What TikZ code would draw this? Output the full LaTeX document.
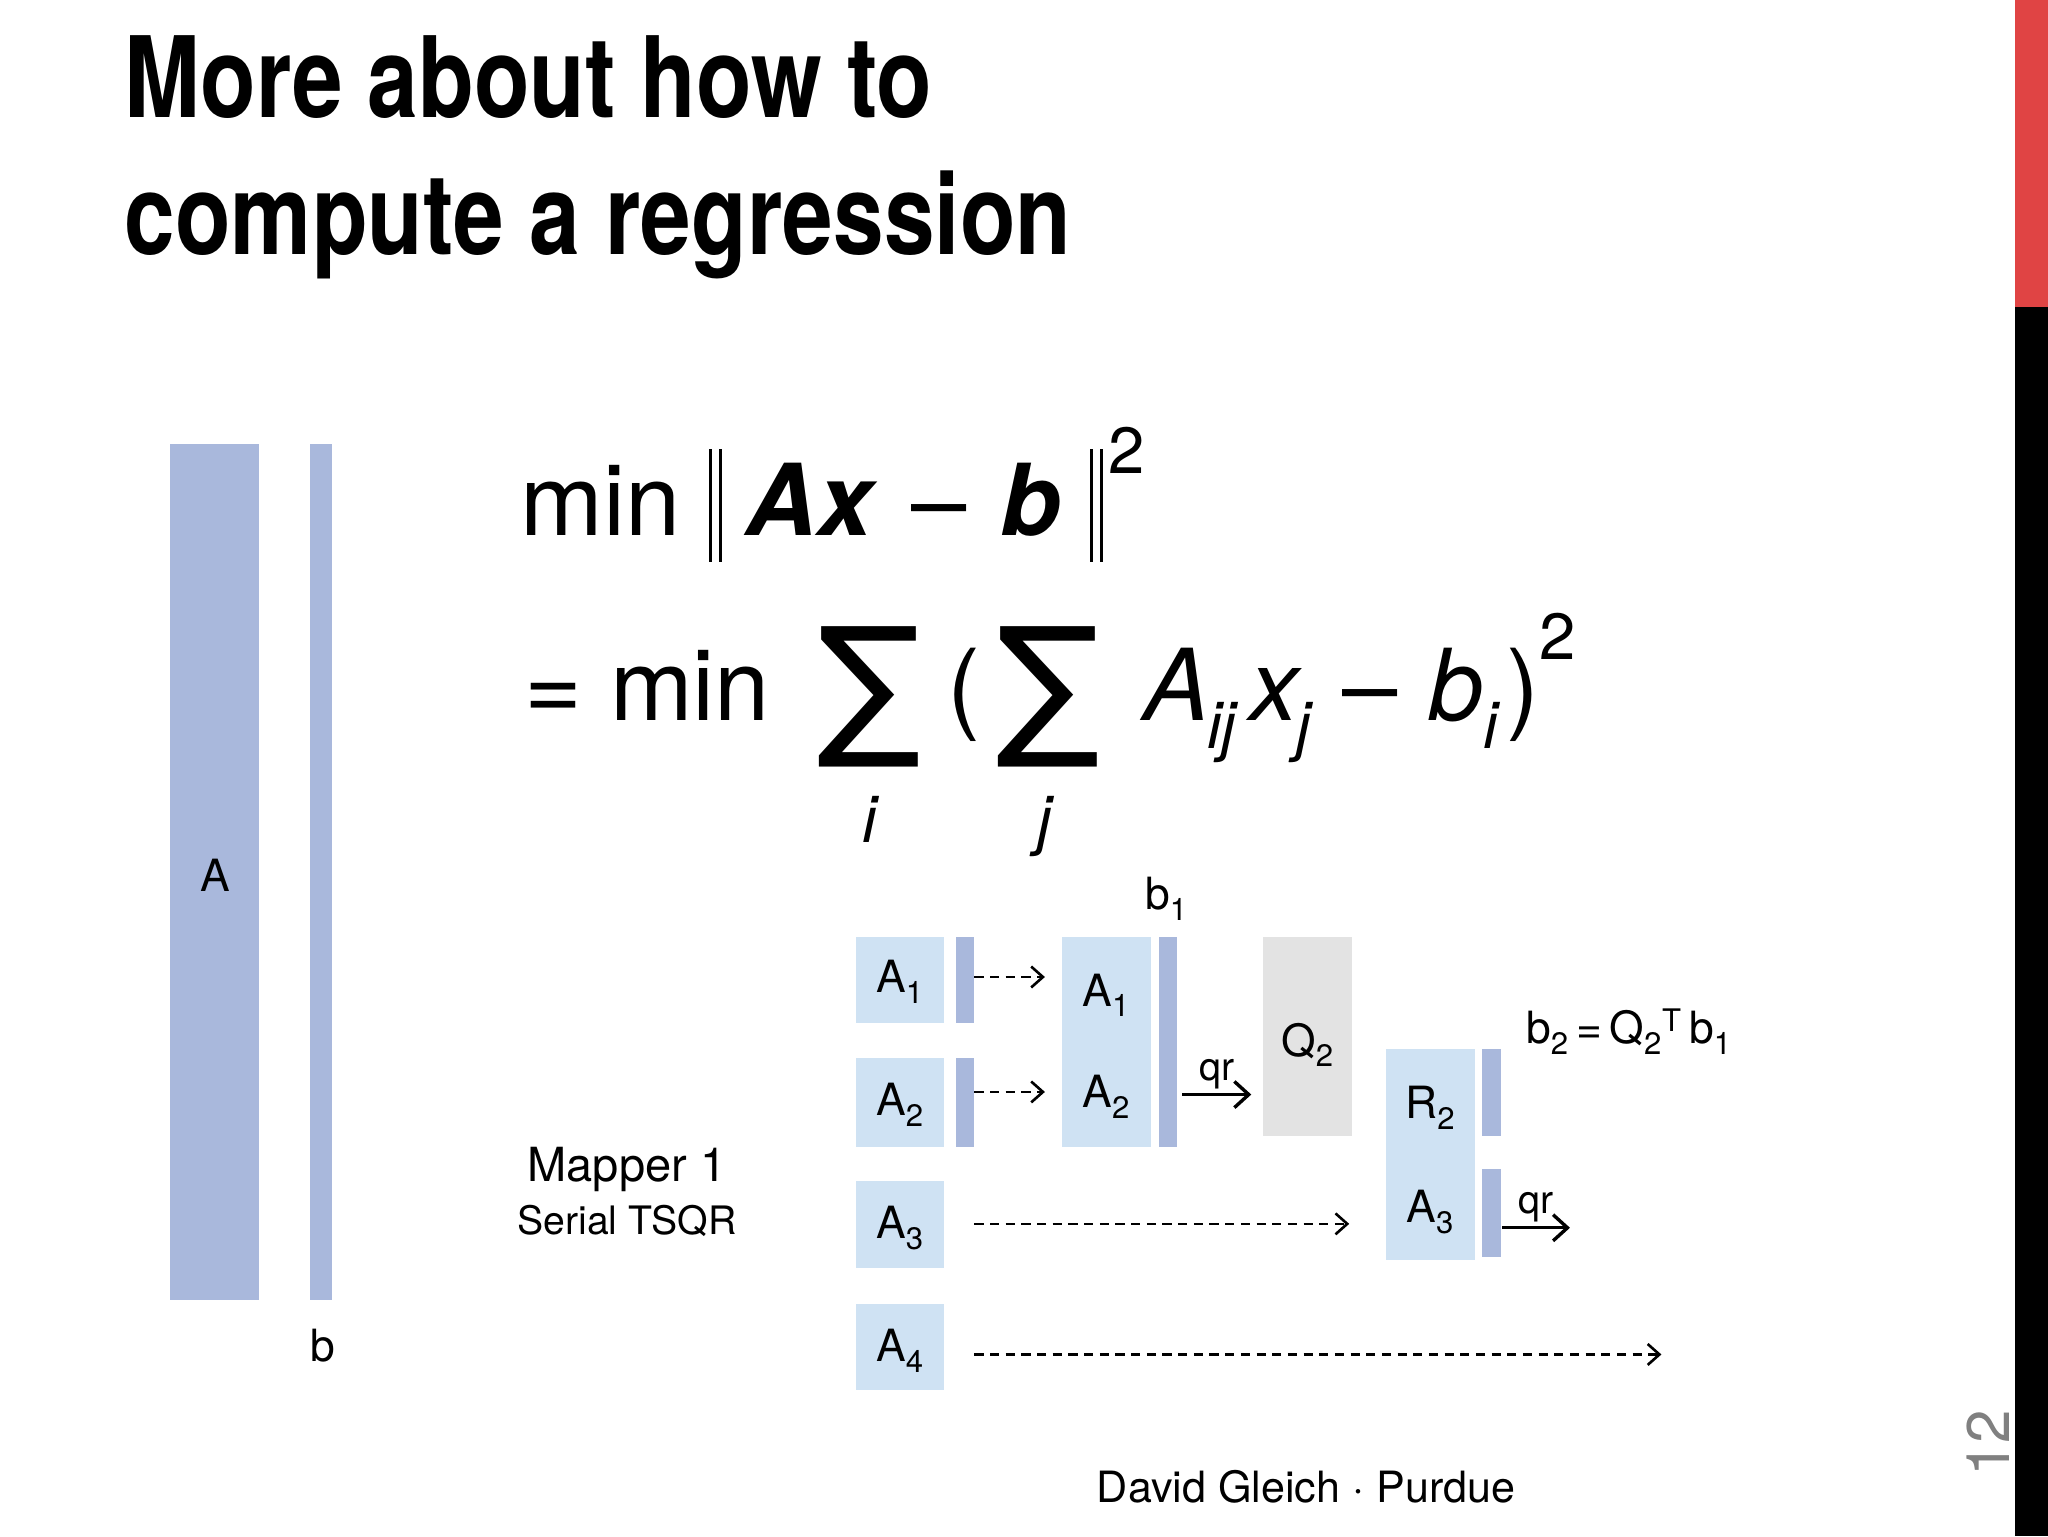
\documentclass[tikz,border=0pt]{standalone}
\usepackage{fontspec}
\usetikzlibrary{arrows.meta}
\setmainfont{TeX Gyre Heros}
\newfontfamily\titlefont[FakeStretch=0.81]{TeX Gyre Heros}
\newfontfamily\symfont{DejaVu Sans}
\newcommand{\fs}[1]{\fontsize{#1}{#1}\selectfont}
\newcommand{\dn}[1]{\raisebox{-0.28em}{\fs{50}#1}}
\newcommand{\up}[1]{\raisebox{0.62em}{\fs{50}#1}}
\newcommand{\nrm}{\hspace{22pt}\raisebox{-20pt}{\rule{2.4pt}{86pt}\hspace{5pt}\rule{2.4pt}{86pt}}\hspace{18pt}}
\definecolor{barblue}{HTML}{A9B8DC}
\definecolor{light}{HTML}{CFE2F3}
\definecolor{qgray}{HTML}{E3E3E3}
\definecolor{redbar}{HTML}{E04444}
\tikzset{
 blk/.style={fill=light,draw=none},
 vbar/.style={fill=barblue,draw=none},
 lab/.style={font=\fs{34}},
 darr/.style={-{Straight Barb[length=9pt,width=16pt,line width=2pt]},line width=1.6pt,dash pattern=on 7pt off 5pt},
 qarr/.style={-{Straight Barb[length=11pt,width=20pt,line width=2.6pt]},line width=2.6pt}
}
\begin{document}
\begin{tikzpicture}[x=1pt,y=-1pt]
\useasboundingbox (0,0) rectangle (1568,1176);
\fill[white] (0,0) rectangle (1568,1176);
\fill[redbar] (1543,0) rectangle (1568,235);
\fill[black] (1543,235) rectangle (1568,1176);
\node[rotate=90,text=gray,font=\fs{46}] (pg) at (1522,1105) {12};
% title
\node[anchor=base west,font=\titlefont\bfseries\fs{86}] (t1) at (92,90) {More about how to};
\node[anchor=base west,font=\titlefont\bfseries\fs{86}] (t2) at (92,195) {compute a regression};
% A and b
\fill[barblue] (130,340) rectangle (198,995);
\fill[barblue] (237,340) rectangle (254,995);
\node[lab] (la) at (165,670) {A};
\node[lab] (lb) at (247,1030) {b};
% equation 1
\node[anchor=base west,font=\fs{76}] (e1) at (395,410) {min\nrm\textbf{\textit{Ax}}\hspace{26pt}--\hspace{26pt}\textbf{\textit{b}}\nrm\hspace{-14pt}\up{2}};
% equation 2
\node[anchor=base west,font=\fs{76}] (e2a) at (398,552) {= min};
\node[anchor=base,font=\symfont\fs{118}] (s1) at (666,565) {∑};
\node[anchor=base,font=\fs{76}] (p1) at (738,552) {(};
\node[anchor=base,font=\symfont\fs{118}] (s2) at (803,565) {∑};
\node[anchor=base west,font=\fs{76}] (e2b) at (872,552) {\textit{A\hspace{-2pt}\dn{\itshape ij}\hspace{10pt}x\hspace{-2pt}\dn{\itshape j}}\hspace{24pt}--\hspace{24pt}\textit{b\dn{\itshape i}}\hspace{6pt})\up{2}};
\node[anchor=base,font=\itshape\fs{50}] (ii) at (666,645) {i};
\node[anchor=base,font=\itshape\fs{50}] (jj) at (800,645) {j};
% TSQR
\fill[blk] (655,717) rectangle (723,783);
\fill[blk] (655,810) rectangle (723,878);
\fill[blk] (655,904) rectangle (723,971);
\fill[blk] (655,998) rectangle (723,1064);
\fill[vbar] (732,717) rectangle (746,783);
\fill[vbar] (732,810) rectangle (746,878);
\node[lab] (a1) at (689,752) {A\textsubscript{1}};
\node[lab] (a2) at (689,846) {A\textsubscript{2}};
\node[lab] (a3) at (689,940) {A\textsubscript{3}};
\node[lab] (a4) at (689,1034) {A\textsubscript{4}};
\fill[blk] (813,717) rectangle (881,878);
\fill[vbar] (887,717) rectangle (901,878);
\node[lab] (c1) at (847,762) {A\textsubscript{1}};
\node[lab] (c2) at (847,840) {A\textsubscript{2}};
\node[lab] (b1) at (893,688) {b\textsubscript{1}};
\fill[qgray] (967,717) rectangle (1035,870);
\node[lab] (q2) at (1001,800) {Q\textsubscript{2}};
\fill[blk] (1061,803) rectangle (1129,965);
\fill[vbar] (1135,803) rectangle (1149,870);
\fill[vbar] (1135,895) rectangle (1149,962);
\node[lab] (r2) at (1095,848) {R\textsubscript{2}};
\node[lab] (r3) at (1095,928) {A\textsubscript{3}};
\node[lab,anchor=west] (b2) at (1165,790) {b\textsubscript{2}\,=\,Q\textsubscript{2}\textsuperscript{T}\,b\textsubscript{1}};
\coordinate (d1s) at (746,748); \coordinate (d1e) at (800,748);
\coordinate (d2s) at (746,836); \coordinate (d2e) at (800,836);
\coordinate (d3s) at (746,937); \coordinate (d3e) at (1033,937);
\coordinate (d4s) at (746,1037); \coordinate (d4e) at (1272,1037);
\draw[darr] (d1s) -- (d1e);
\draw[darr] (d2s) -- (d2e);
\draw[darr] (d3s) -- (d3e);
\draw[darr] (d4s) -- (d4e);
\coordinate (q1s) at (905,838); \coordinate (q1e) at (958,838);
\coordinate (q3s) at (1150,940); \coordinate (q3e) at (1202,940);
\draw[qarr] (q1s) -- node[above,font=\fs{30},inner sep=3pt] (qr1) {qr} (q1e);
\draw[qarr] (q3s) -- node[above,font=\fs{30},inner sep=3pt] (qr2) {qr} (q3e);
\node[font=\fs{36}] (m1) at (480,895) {Mapper 1};
\node[font=\fs{30}] (m2) at (480,935) {Serial TSQR};
\node[font=\fs{33}] (ft) at (1000,1138) {David Gleich · Purdue};
\end{tikzpicture}
\end{document}
